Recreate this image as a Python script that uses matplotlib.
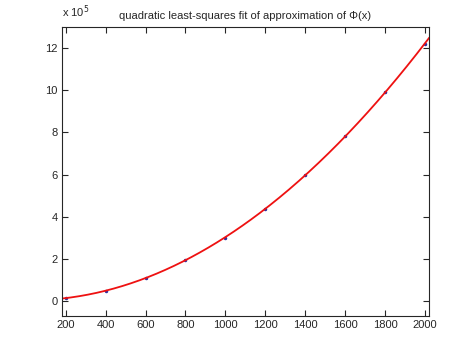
import numpy as np
import matplotlib
matplotlib.use("Agg")
import matplotlib.pyplot as plt

x_data = [200, 400, 600, 800, 1000, 1200, 1400, 1600, 1800, 2000]
y_data = [0.15e5, 0.5e5, 1.1e5, 1.95e5, 3.0e5, 4.35e5, 6.0e5, 7.85e5, 9.9e5, 12.2e5]
x_ticks = [200, 400, 600, 800, 1000, 1200, 1400, 1600, 1800, 2000]
y_ticks = [0, 2, 4, 6, 8, 10, 12]

plt.rcParams['font.family'] = ['Liberation Sans', 'DejaVu Sans']

fig = plt.figure(figsize=(4.74, 3.55), dpi=100)
ax = fig.add_axes([0.131, 0.110, 0.774, 0.814])

coef = np.polyfit(x_data, y_data, 2)
xlim = (182, 2020)
xf = np.linspace(xlim[0], xlim[1], 300)
yf = np.polyval(coef, xf)

scale = 1e5
ax.plot(np.array(x_data), np.array(y_data) / scale, '.', color='#3030a0', markersize=3)
ax.plot(xf, yf / scale, '-', color='#ee1111', linewidth=1.3)

ax.set_xlim(*xlim)
ax.set_ylim(-0.7, 13.0)
ax.set_xticks(x_ticks)
ax.set_yticks(y_ticks)
ax.tick_params(direction='in', top=True, right=True, labelsize=8, length=4, width=0.8, colors='#262626', labelcolor='#262626', pad=3)
for s in ax.spines.values():
    s.set_linewidth(0.8)
    s.set_color('#262626')

ax.set_title('quadratic least-squares fit of approximation of \u03a6(x)', fontsize=8, color='#262626', pad=6)
fig.text(0.131, 0.945, r'x 10$^{5}$', fontsize=8, color='#262626', ha='left', va='bottom')

fig.savefig('out.png', dpi=100)
